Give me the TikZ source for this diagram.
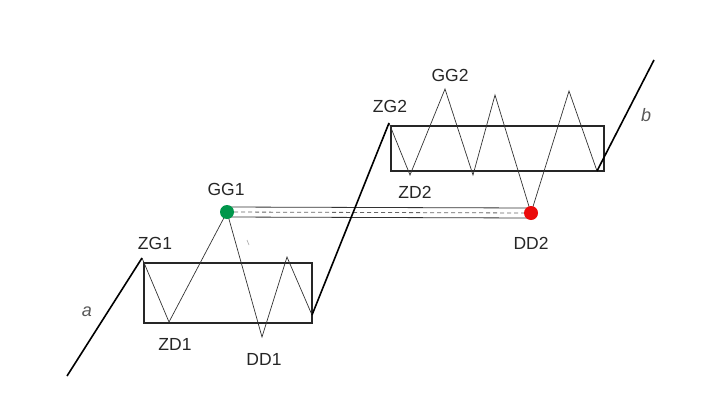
\documentclass[tikz,border=0pt]{standalone}
\usepackage{fontspec}
\setmainfont{Liberation Sans}
\begin{document}
\begin{tikzpicture}[x=1pt,y=-1pt,
  trend/.style={line width=1.6pt,black},
  zone/.style={line width=1.3pt,black!85},
  wave/.style={line width=0.7pt,black!80,line join=miter},
  lbl/.style={font=\fontsize{17.5}{19}\selectfont,text=black!85,inner sep=0pt},
  lett/.style={font=\fontsize{18}{20}\selectfont\itshape,text=black!65,inner sep=0pt},
  rail/.style={line width=0.8pt,black!80},
  dot/.style={circle,inner sep=0pt,minimum size=14pt}]
\useasboundingbox (0,0) rectangle (720,413);
% points
\coordinate (A0) at (67,376);
\coordinate (ZG1) at (142,258);
\coordinate (ZD1) at (169,322);
\coordinate (GG1) at (227,212);
\coordinate (DD1) at (262,337);
\coordinate (P1) at (287,257);
\coordinate (E1) at (312,315);
\coordinate (ZG2) at (389,123);
\coordinate (ZD2) at (410,175);
\coordinate (GG2) at (445,89);
\coordinate (Q1) at (473,175);
\coordinate (Q2) at (495,95);
\coordinate (DD2) at (531,213);
\coordinate (Q3) at (569,91);
\coordinate (E2) at (597,171);
\coordinate (B0) at (654,60);
% zone boxes
\draw[zone] (144,263) rectangle (312,323);
\draw[zone] (391,126) rectangle (604,171);
% channel between GG1 and DD2
\draw[rail] ([yshift=-5pt]GG1) -- ([yshift=-5pt]DD2);
\draw[rail] ([yshift=5pt]GG1) -- ([yshift=5pt]DD2);
\draw[line width=0.8pt,black!60,dash pattern=on 4pt off 3pt] (GG1) -- (DD2);
% waves
\draw[wave] (ZG1) -- (ZD1) -- (GG1) -- (DD1) -- (P1) -- (E1);
\draw[wave] (ZG2) -- (ZD2) -- (GG2) -- (Q1) -- (Q2) -- (DD2) -- (Q3) -- (E2);
% trends
\draw[trend] (A0) -- (ZG1);
\draw[trend] (E1) -- (ZG2);
\draw[trend] (E2) -- (B0);
% dots
\node[dot,fill={rgb,255:red,0;green,150;blue,75}] (g1) at (GG1) {};
\node[dot,fill={rgb,255:red,235;green,10;blue,10}] (d2) at (DD2) {};
% stray mark
\draw[black!35,line width=0.6pt] (247,240) -- (249,245);
% labels
\node[lbl] (lZG1) at (155,243) {ZG1};
\node[lbl] (lZD1) at (175,344) {ZD1};
\node[lbl] (lDD1) at (264,359) {DD1};
\node[lbl] (lGG1) at (226,189) {GG1};
\node[lbl] (lZG2) at (390,106) {ZG2};
\node[lbl] (lZD2) at (415,192) {ZD2};
\node[lbl] (lGG2) at (450,75) {GG2};
\node[lbl] (lDD2) at (531,243) {DD2};
\node[lett] (la) at (87,312) {a};
\node[lett] (lb) at (646,115) {b};
\end{tikzpicture}
\end{document}
